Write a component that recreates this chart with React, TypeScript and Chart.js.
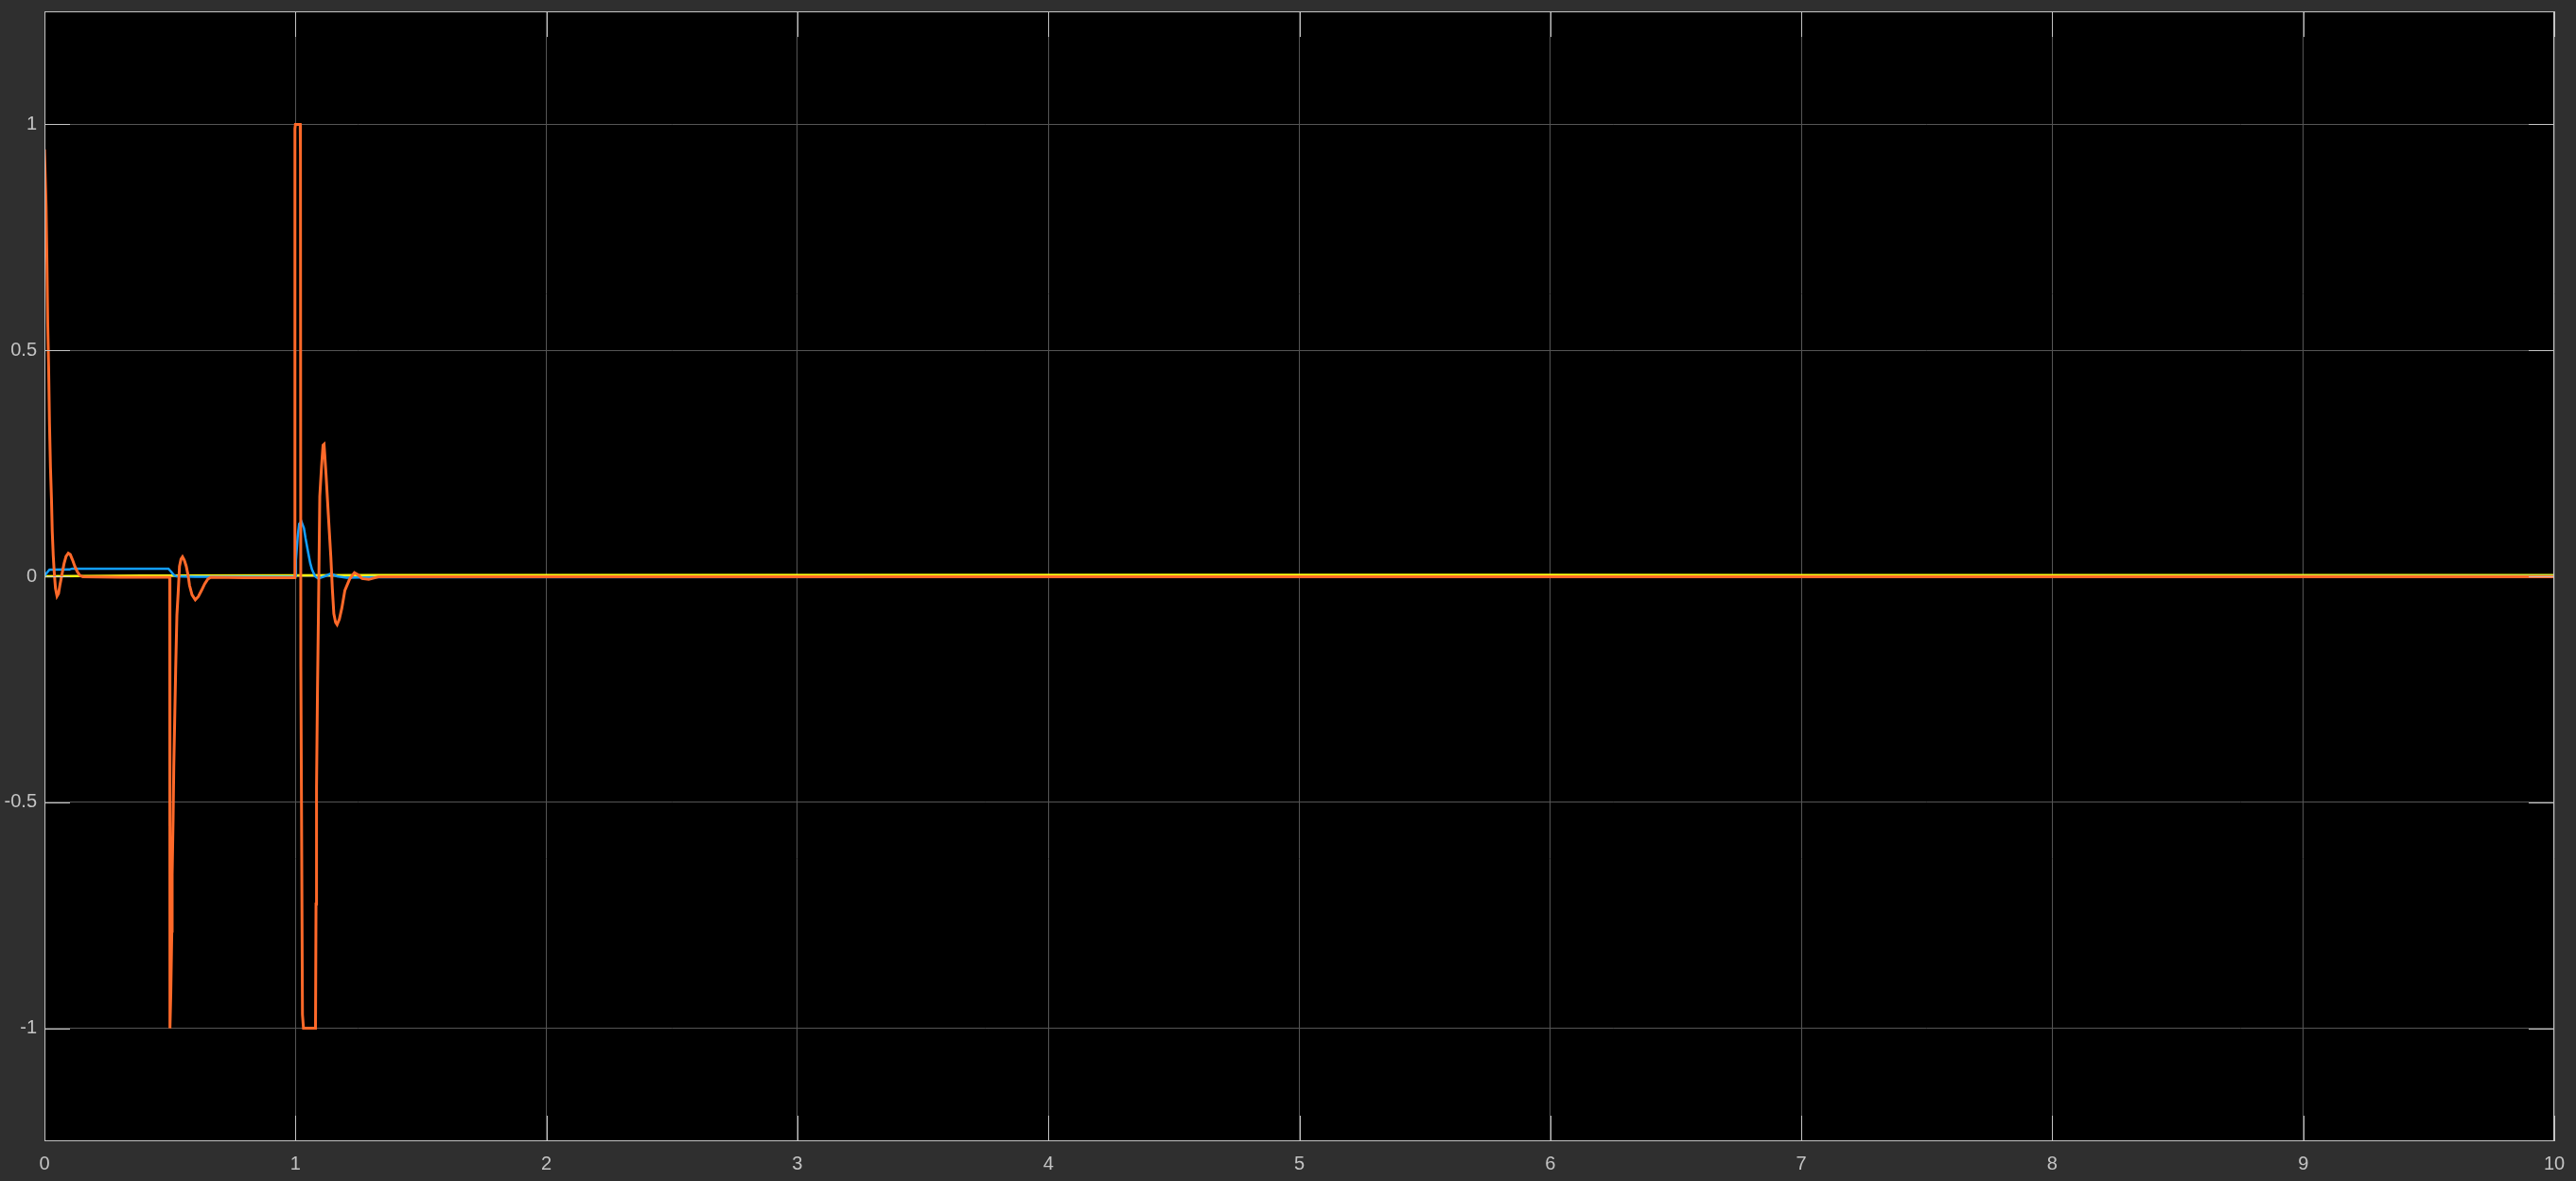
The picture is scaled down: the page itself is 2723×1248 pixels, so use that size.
import React, { useEffect, useRef } from 'react';
import { Chart, registerables } from 'chart.js';

Chart.register(...registerables);

// time (s) and value samples
const orangeT = [
  0, 0.0064, 0.01, 0.013, 0.017, 0.02, 0.024, 0.028, 0.031, 0.035, 0.039, 0.044, 0.05, 0.056, 0.062,
  0.07, 0.078, 0.086, 0.095, 0.103, 0.112, 0.121, 0.131, 0.141, 0.153, 0.3, 0.499,
  0.5, 0.5035, 0.5074, 0.5088, 0.5126, 0.5153, 0.519, 0.5228, 0.5277, 0.533, 0.538, 0.544, 0.55,
  0.557, 0.565, 0.573, 0.578, 0.588, 0.601, 0.613, 0.626, 0.638, 0.651, 0.663, 0.8, 0.997,
  0.998, 1.0, 1.019, 1.02, 1.0215, 1.028, 1.032, 1.08, 1.082, 1.084, 1.088, 1.092, 1.097, 1.104,
  1.11, 1.114, 1.122, 1.131, 1.141, 1.147, 1.153, 1.16, 1.166, 1.175, 1.185, 1.197, 1.216, 1.235,
  1.25, 1.266, 1.292, 1.33, 10,
];
const orangeY = [
  0.945, 0.82, 0.69, 0.56, 0.45, 0.34, 0.24, 0.17, 0.1, 0.046, 0.008, -0.027, -0.044, -0.038, -0.018,
  0.005, 0.028, 0.044, 0.051, 0.048, 0.036, 0.022, 0.01, 0.002, -0.001, -0.002, -0.002,
  -1.0, -0.92, -0.785, -0.66, -0.536, -0.42, -0.315, -0.206, -0.086, -0.034, 0.022, 0.038, 0.043,
  0.036, 0.022, 0.0, -0.02, -0.041, -0.052, -0.045, -0.031, -0.017, -0.006, -0.002, -0.003, -0.003,
  0.99, 1.0, 1.0, 0.93, -0.2, -0.97, -1.0, -1.0, -0.725, -0.466, -0.244, -0.065, 0.177, 0.243,
  0.29, 0.292, 0.225, 0.137, 0.043, -0.027, -0.083, -0.102, -0.107, -0.095, -0.07, -0.031, -0.006, 0.008,
  0.003, -0.005, -0.007, -0.001, -0.001,
];

const blueT = [
  0, 0.008, 0.02, 0.1, 0.11, 0.494, 0.505, 0.515, 0.525, 0.6, 0.998, 1.0, 1.002, 1.009, 1.015,
  1.024, 1.034, 1.04, 1.047, 1.053, 1.059, 1.066, 1.078, 1.091, 1.116, 1.141, 1.166, 1.204, 1.3, 10,
];
const blueY = [
  0, 0.007, 0.0147, 0.015, 0.017, 0.017, 0.01, 0.003, 0.0, -0.001, -0.001, 0.0, 0.036, 0.088, 0.116,
  0.121, 0.106, 0.085, 0.064, 0.046, 0.029, 0.015, 0.0, -0.005, 0.0, 0.006, 0.0, -0.003, -0.002, 0.0,
];

const yellowT = [0, 0.39, 1.0, 1.3, 4.5, 6.0, 7.0, 10];
const yellowY = [0.0, 0.0015, 0.002, 0.0026, 0.003, 0.003, 0.0026, 0.0026];

const xTicks = [0, 1, 2, 3, 4, 5, 6, 7, 8, 9, 10];
const yTicks = [-1, -0.5, 0, 0.5, 1];

const toPoints = (t: number[], v: number[]) => t.map((x, i) => ({ x, y: v[i] }));

const FRAME = '#c4c4c4';
const GRID = '#555555';
const LABEL = '#c4c4c4';

const framePlugin = {
  id: 'scopeFrame',
  beforeDraw(chart: any) {
    const { ctx, chartArea } = chart;
    ctx.save();
    ctx.fillStyle = '#000000';
    ctx.fillRect(chartArea.left, chartArea.top, chartArea.right - chartArea.left, chartArea.bottom - chartArea.top);
    ctx.restore();
  },
  afterDraw(chart: any) {
    const { ctx, chartArea, scales } = chart;
    const { left, right, top, bottom } = chartArea;
    const len = 27;
    ctx.save();
    ctx.strokeStyle = FRAME;
    ctx.lineWidth = 1;
    ctx.beginPath();
    xTicks.forEach((v) => {
      const px = Math.round(scales.x.getPixelForValue(v)) + 0.5;
      ctx.moveTo(px, bottom);
      ctx.lineTo(px, bottom - len);
      ctx.moveTo(px, top);
      ctx.lineTo(px, top + len);
    });
    yTicks.forEach((v) => {
      const py = Math.round(scales.y.getPixelForValue(v)) + 0.5;
      ctx.moveTo(left, py);
      ctx.lineTo(left + len, py);
      ctx.moveTo(right, py);
      ctx.lineTo(right - len, py);
    });
    ctx.stroke();
    ctx.strokeRect(left + 0.5, top + 0.5, right - left - 1, bottom - top - 1);
    ctx.restore();
  },
};

const ScopeChart: React.FC = () => {
  const chartRef = useRef<HTMLCanvasElement | null>(null);
  const chartInstance = useRef<Chart | null>(null);

  useEffect(() => {
    document.body.style.margin = '0';
    if (!chartRef.current) return;
    if (chartInstance.current) chartInstance.current.destroy();

    const font = { family: '"Liberation Sans", Arial, sans-serif', size: 20 };

    chartInstance.current = new Chart(chartRef.current, {
      type: 'line',
      data: {
        datasets: [
          {
            label: 'orange',
            data: toPoints(orangeT, orangeY),
            borderColor: '#ff6929',
            borderWidth: 3,
            pointRadius: 0,
            tension: 0,
          },
          {
            label: 'blue',
            data: toPoints(blueT, blueY),
            borderColor: '#139fff',
            borderWidth: 2.5,
            pointRadius: 0,
            tension: 0,
          },
          {
            label: 'yellow',
            data: toPoints(yellowT, yellowY),
            borderColor: '#ffff11',
            borderWidth: 2.5,
            pointRadius: 0,
            tension: 0,
          },
        ],
      },
      options: {
        animation: false,
        responsive: true,
        maintainAspectRatio: false,
        layout: { autoPadding: false, padding: { top: 12, right: 23, left: 0, bottom: 0 } },
        plugins: { legend: { display: false }, tooltip: { enabled: false } },
        scales: {
          x: {
            type: 'linear',
            min: 0,
            max: 10,
            afterFit: (scale: any) => {
              scale.height = 42;
              scale.paddingLeft = 0;
              scale.paddingRight = 0;
            },
            afterBuildTicks: (scale: any) => {
              scale.ticks = xTicks.map((value) => ({ value }));
            },
            ticks: { color: LABEL, font, padding: 12, maxRotation: 0, callback: (v: any) => String(v) },
            grid: { color: GRID, lineWidth: 1, drawTicks: false },
            border: { display: false },
          },
          y: {
            type: 'linear',
            min: -1.25,
            max: 1.25,
            afterFit: (scale: any) => {
              scale.width = 47;
              scale.paddingTop = 0;
              scale.paddingBottom = 0;
            },
            afterBuildTicks: (scale: any) => {
              scale.ticks = yTicks.map((value) => ({ value }));
            },
            ticks: { color: LABEL, font, padding: 8, callback: (v: any) => String(v) },
            grid: { color: GRID, lineWidth: 1, drawTicks: false },
            border: { display: false },
          },
        },
      },
      plugins: [framePlugin],
    });

    return () => {
      if (chartInstance.current) {
        chartInstance.current.destroy();
        chartInstance.current = null;
      }
    };
  }, []);

  return (
    <div style={{ position: 'fixed', left: 0, top: 0, width: 2723, height: 1248, background: '#2f2f2f' }}>
      <canvas ref={chartRef} />
    </div>
  );
};

export default function App() {
  return <ScopeChart />;
}
